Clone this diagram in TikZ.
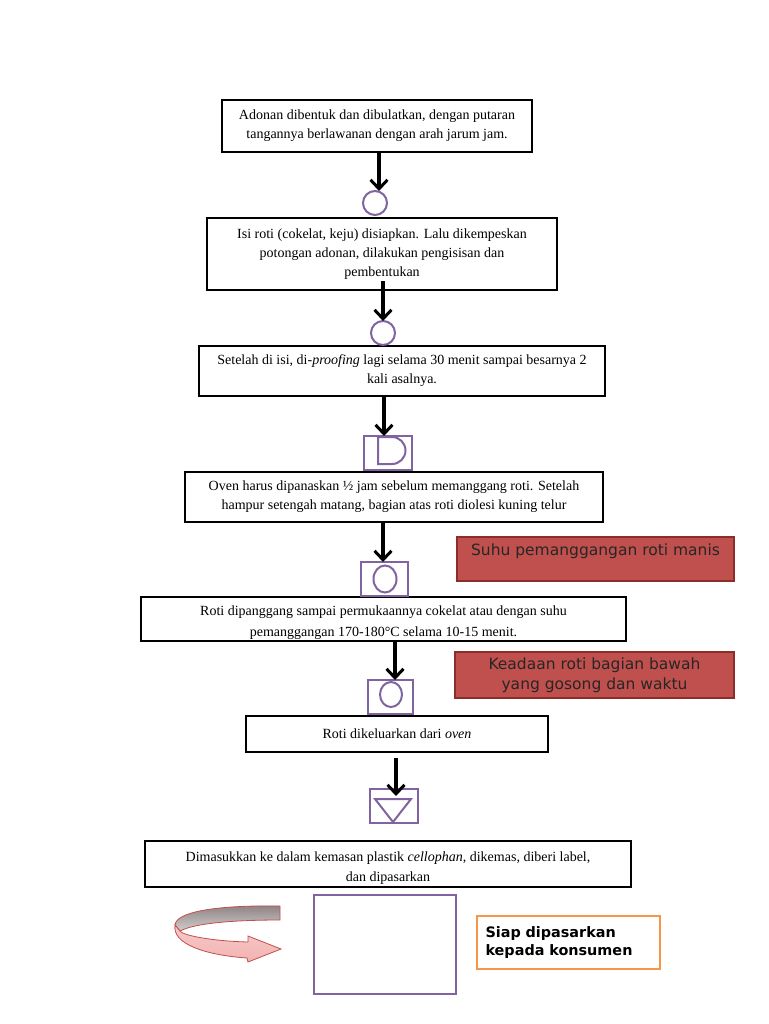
\documentclass[tikz,border=0pt]{standalone}
\usepackage{fontspec}
\setmainfont{Liberation Serif}
\newfontfamily\dejavu{DejaVu Sans}
\usetikzlibrary{arrows.meta,calc}
\definecolor{purp}{HTML}{8064A2}
\definecolor{redf}{HTML}{C0504D}
\definecolor{redb}{HTML}{8C2D2A}
\definecolor{orng}{HTML}{F79646}
\definecolor{ribgray}{HTML}{8E8283}
\definecolor{ribpink}{HTML}{F2B3B2}
\begin{document}
\begin{tikzpicture}[x=1pt,y=-1pt,
  procbox/.style={draw=black,line width=2.6pt,fill=white,inner sep=0pt,align=center,
    font=\fontsize{14}{19}\selectfont},
  boxtxt/.style={font=\fontsize{14}{21}\selectfont,align=center,anchor=north,inner sep=0pt},
  symbox/.style={draw=purp,line width=2pt,inner sep=0pt},
  symcirc/.style={draw=purp,line width=2pt,circle,inner sep=0pt,minimum size=24pt},
  symline/.style={draw=purp,line width=2pt},
  flow/.style={line width=4pt,-{Straight Barb[length=9pt,width=17pt,line width=3pt]}},
  redbox/.style={draw=redb,line width=2pt,fill=redf,inner sep=0pt,
    font=\dejavu\fontsize{15.5}{20}\selectfont,text=black!85},
  orbox/.style={draw=orng,line width=2.4pt,fill=white,inner sep=0pt,
    font=\dejavu\bfseries\fontsize{14.4}{18.5}\selectfont}]
\useasboundingbox (0,0) rectangle (768,1024);
\fill[white] (0,0) rectangle (768,1024);

% process boxes
\node[procbox,minimum width=310pt,minimum height=52pt] (b1) at (377,126)
  {Adonan dibentuk dan dibulatkan, dengan putaran\\tangannya berlawanan dengan arah jarum jam.};
\node[procbox,minimum width=350pt,minimum height=72pt] (b2) at (382,254)
  {Isi roti (cokelat, keju) disiapkan. Lalu dikempeskan\\potongan adonan, dilakukan pengisisan dan\\pembentukan};
\node[procbox,minimum width=406pt,minimum height=50pt] (b3) at (402,371)
  {Setelah di isi, di-\textit{proofing} lagi selama 30 menit sampai besarnya 2\\kali asalnya.};
\node[procbox,minimum width=418pt,minimum height=50pt] (b4) at (394,497)
  {Oven harus dipanaskan ½ jam sebelum memanggang roti. Setelah\\hampur setengah matang, bagian atas roti diolesi kuning telur};
\fill[white] (141,597) rectangle (626,641);
\begin{scope}
  \clip (141,597) rectangle (626,641);
  \node[boxtxt] at (383.5,606)
    {Roti dipanggang sampai permukaannya cokelat atau dengan suhu\\pemanggangan 170-180°C selama 10-15 menit.};
\end{scope}
\node[procbox,fill=none,minimum width=485pt,minimum height=44pt] (b5) at (383.5,619) {};
\node[procbox,minimum width=302pt,minimum height=36pt] (b6) at (397,734)
  {Roti dikeluarkan dari \textit{oven}};
\fill[white] (145,841) rectangle (631,887);
\begin{scope}
  \clip (145,841) rectangle (631,887);
  \node[boxtxt,font=\fontsize{14}{20}\selectfont] at (388,852)
    {Dimasukkan ke dalam kemasan plastik \textit{cellophan}, dikemas, diberi label,\\dan dipasarkan};
\end{scope}
\node[procbox,fill=none,minimum width=486pt,minimum height=46pt] (b7) at (388,864) {};

% symbols
\node[symcirc] (c1) at (375,203) {};
\node[symcirc] (c2) at (383,333) {};
\node[symbox,minimum width=48pt,minimum height=34pt] (s3) at (388,453) {};
\draw[symline] (378,437) -- (378,464) -- (392,464) arc (90:-90:13.5) -- cycle;
\node[symbox,minimum width=47pt,minimum height=34pt] (s4) at (384.5,579) {};
\draw[symline] (385,579) ellipse (11.5 and 13.5);
\node[symbox,minimum width=45pt,minimum height=34pt] (s5) at (390.5,697) {};
\draw[symline] (391,694.5) ellipse (11 and 12.5);
\node[symbox,minimum width=48pt,minimum height=34pt] (s6) at (394,806) {};
\draw[symline] (375,799) -- (411,799) -- (393,822) -- cycle;
\node[symbox,minimum width=142pt,minimum height=99pt] (s7) at (385,944.5) {};

% connectors
\draw[flow] ($(b1.south)+(2,0)$) -- ($(b1.south |- c1.north)+(2,1)$);
\draw[flow] ($(b2.south)+(1,-10)$) -- ($(b2.south |- c2.north)+(1,1)$);
\draw[flow] ($(b3.south)+(-18,0)$) -- ($(b3.south |- s3.north)+(-18,1)$);
\draw[flow] ($(b4.south)+(-11,0)$) -- ($(b4.south |- s4.north)+(-11,1)$);
\draw[flow] ($(b5.south)+(11.5,0)$) -- ($(b5.south |- s5.north)+(11.5,1)$);
\draw[flow] ($(b6.south)+(-1,5)$) -- ($(b6.south |- s6.north)+(-1,8)$);

% note boxes
\node[redbox,minimum width=277pt,minimum height=44pt] (n1) at (595.5,559) {};
\node[font=\dejavu\fontsize{15.5}{20}\selectfont,text=black!85] at (n1.center) [yshift=8pt] {Suhu pemanggangan roti manis};
\node[redbox,minimum width=279pt,minimum height=46pt,align=center] (n2) at (594.5,675)
  {Keadaan roti bagian bawah\\yang gosong dan waktu};
\node[orbox,minimum width=183pt,minimum height=53pt,align=left,text width=166pt] (n3) at (568.5,942.5)
  {Siap dipasarkan\\kepada konsumen};

% curved ribbon arrow
\shade[top color=ribgray,bottom color=ribgray!40,draw=redf,line width=0.8pt]
  (280,906) .. controls (215,905) and (176,912) .. (175,925)
  -- (180,931) .. controls (195,923) and (235,920) .. (280,920) -- cycle;
\shade[top color=ribpink!70,bottom color=ribpink,draw=redf,line width=0.8pt]
  (175,925) .. controls (172,944) and (205,955) .. (247,958)
  -- (248,962) -- (281,949) -- (248,936) -- (248,942)
  .. controls (210,941) and (182,935) .. (180,931) -- cycle;
\end{tikzpicture}
\end{document}
